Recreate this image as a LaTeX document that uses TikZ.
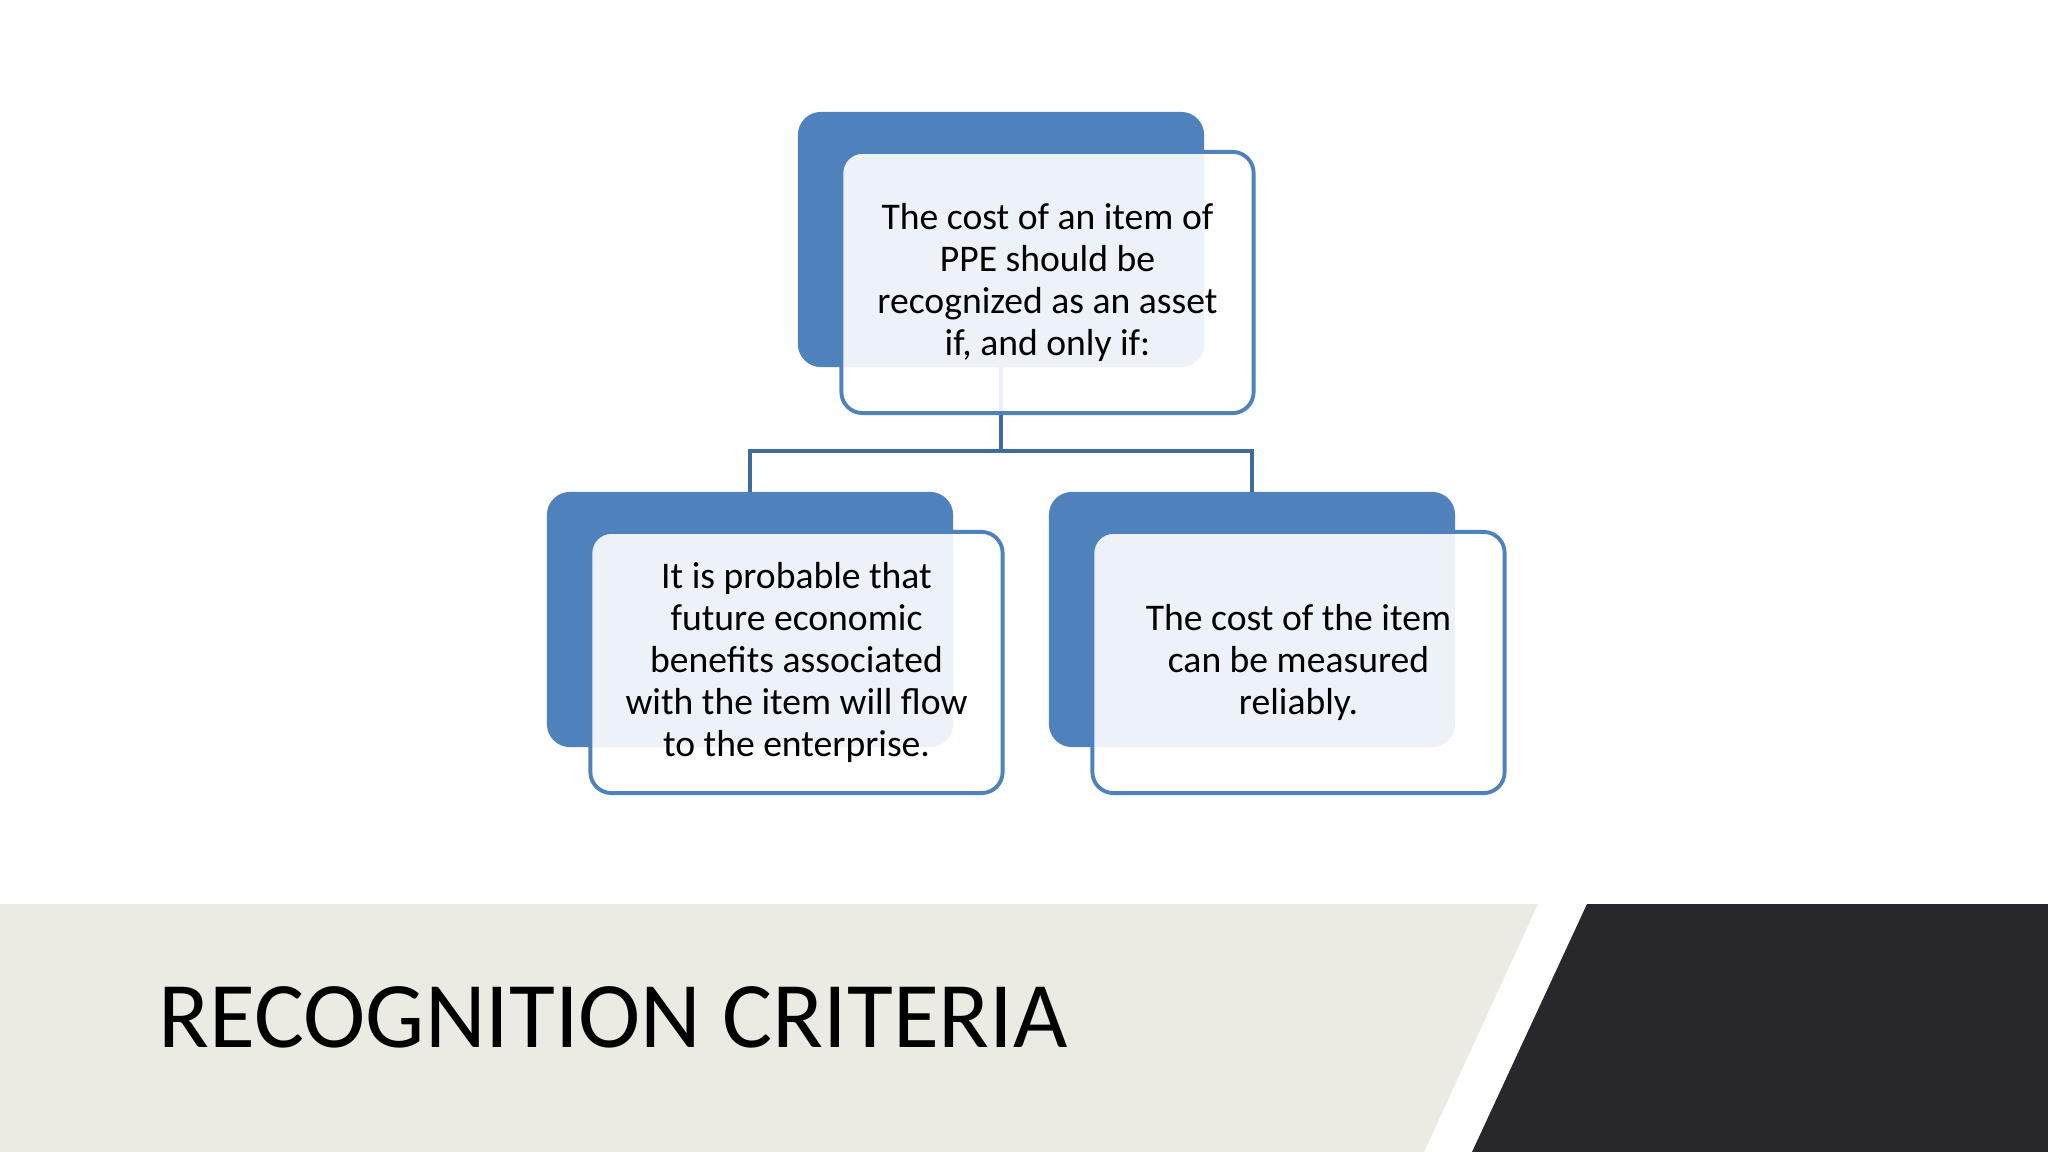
\documentclass[tikz,border=0pt]{standalone}
\usepackage{fontspec}
\setmainfont{Carlito}
\definecolor{accent}{HTML}{4F81BD}
\definecolor{connblue}{HTML}{3F6C9E}
\definecolor{bandgray}{HTML}{EBEAE3}
\definecolor{darkband}{HTML}{28272B}
\tikzset{
  backbox/.style={rectangle, rounded corners=0.23cm, fill=accent, minimum width=4.06cm, minimum height=2.55cm, inner sep=0pt, outer sep=0pt},
  frontbox/.style={rectangle, rounded corners=0.21cm, draw=accent, line width=1.1pt, fill=white, fill opacity=0.9, text opacity=1, minimum width=4.12cm, minimum height=2.61cm, inner sep=0pt, outer sep=0pt, align=center, text=black, font=\fontsize{10.7}{11.95}\selectfont},
  conn/.style={draw=connblue, line width=1.15pt}
}
\begin{document}
\begin{tikzpicture}[x=0.01cm,y=-0.01cm]
\useasboundingbox (0,0) rectangle (2048,1152);
\fill[white] (0,0) rectangle (2048,1152);
% bottom band
\fill[bandgray] (0,904) -- (1538,904) -- (1424,1152) -- (0,1152) -- cycle;
\fill[darkband] (1587,904) -- (2048,904) -- (2048,1152) -- (1472,1152) -- cycle;
\node[anchor=base west, inner sep=0pt, font=\fontsize{26.7}{32}\selectfont] (title) at (158,1047) {RECOGNITION CRITERIA};
% back boxes
\node[backbox] (topback) at (1001,239.5) {};
\node[backbox] (blback) at (750,619.5) {};
\node[backbox] (brback) at (1252,619.5) {};
% connectors
\coordinate (j) at (1001,451);
\draw[conn] (topback.south) -- (j);
\draw[conn] (blback.north) |- (j) -| (brback.north);
% front boxes
\node[frontbox] (topfront) at (1047.5,282.5) {The cost of an item of\\PPE should be\\recognized as an asset\\if, and only if:};
\node[frontbox] (blfront) at (796.5,662.5) {It is probable that\\future economic\\benefits associated\\with the item will flow\\to the enterprise.};
\node[frontbox] (brfront) at (1298.5,662.5) {The cost of the item\\can be measured\\reliably.};
\end{tikzpicture}
\end{document}
